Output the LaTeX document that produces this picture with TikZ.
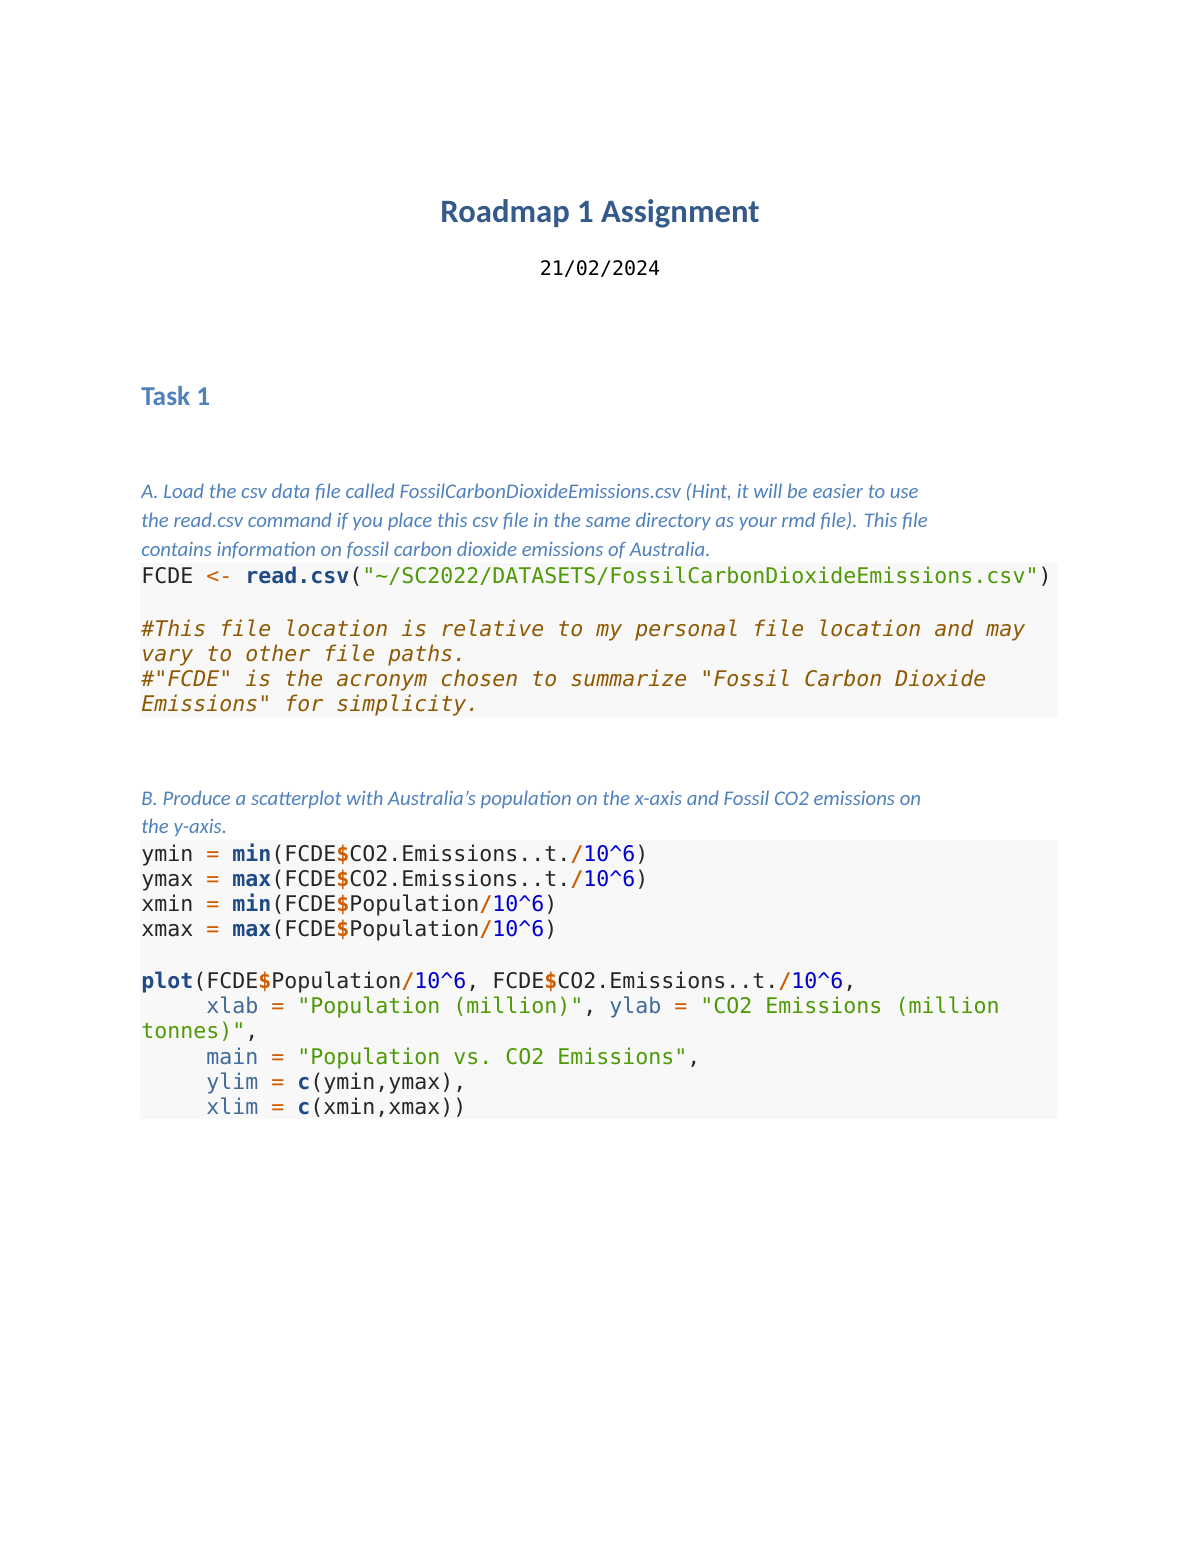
\documentclass[tikz,border=0pt]{standalone}
\usepackage{fontspec}
\setmainfont{Carlito}
\setmonofont{DejaVu Sans Mono}
\definecolor{titlec}{HTML}{345A8A}
\definecolor{taskc}{HTML}{4F81BD}
\definecolor{bodyc}{HTML}{4F81BD}
\definecolor{kwc}{HTML}{204A87}
\definecolor{opc}{HTML}{CE5C00}
\definecolor{stc}{HTML}{4E9A06}
\definecolor{nmc}{HTML}{0000CF}
\definecolor{cmc}{HTML}{8F5902}
\definecolor{atc}{HTML}{3F6A9A}
\definecolor{codebg}{HTML}{F8F8F8}
\newcommand{\kw}[1]{\textcolor{kwc}{\bfseries #1}}
\newcommand{\opx}[1]{\textcolor{opc}{#1}}
\newcommand{\opb}[1]{\textcolor{opc}{\bfseries #1}}
\newcommand{\stx}[1]{\textcolor{stc}{#1}}
\newcommand{\nmx}[1]{\textcolor{nmc}{#1}}
\newcommand{\cmx}[1]{\textcolor{cmc}{\itshape #1}}
\newcommand{\atx}[1]{\textcolor{atc}{#1}}
\newcommand{\ind}{\phantom{xxxxx}}
\begin{document}
\begin{tikzpicture}[x=0.75pt,y=-0.75pt,
  codeline/.style={anchor=base west,inner sep=0pt,font=\ttfamily\fontsize{16.2}{18}\selectfont,text=black!85},
  bodyline/.style={anchor=base west,inner sep=0pt,font=\itshape\fontsize{15.6}{18}\selectfont,text=bodyc},
]
\useasboundingbox[fill=white] (0,0) rectangle (1200,1553);
\fill[codebg] (140,563) rectangle (1058,717);
\fill[codebg] (140,840) rectangle (1058,1119);
\node[anchor=base,inner sep=0pt,font=\bfseries\fontsize{24.5}{28}\selectfont,text=titlec] (title) at (600,222) {Roadmap 1 Assignment};
\node[anchor=base,inner sep=0pt,font=\ttfamily\fontsize{15}{18}\selectfont] (date) at (600,275) {21/02/2024};
\node[anchor=base west,inner sep=0pt,font=\bfseries\fontsize{20.5}{24}\selectfont,text=taskc] (task) at (141,405) {Task 1};
\node[bodyline] (a1) at (141,498) {A. Load the csv data file called FossilCarbonDioxideEmissions.csv (Hint, it will be easier to use};
\node[bodyline] (a2) at (141,527) {the read.csv command if you place this csv file in the same directory as your rmd file). This file};
\node[bodyline] (a3) at (141,556) {contains information on fossil carbon dioxide emissions of Australia.};
\node[codeline] (c1) at (141,583) {FCDE \opx{<-} \kw{read.csv}(\stx{"\textasciitilde/SC2022/DATASETS/FossilCarbonDioxideEmissions.csv"})};
\node[codeline] (c2) at (141,636) {\cmx{\#This file location is relative to my personal file location and may}};
\node[codeline] (c3) at (141,661) {\cmx{vary to other file paths.}};
\node[codeline] (c4) at (141,686) {\cmx{\#"FCDE" is the acronym chosen to summarize "Fossil Carbon Dioxide}};
\node[codeline] (c5) at (141,711) {\cmx{Emissions" for simplicity.}};
\node[bodyline] (b1) at (141,805) {B. Produce a scatterplot with Australia's population on the x-axis and Fossil CO2 emissions on};
\node[bodyline] (b2) at (141,833) {the y-axis.};
\node[codeline] (d1) at (141,861) {ymin \opx{=} \kw{min}(FCDE\opb{\$}CO2.Emissions..t.\opb{/}\nmx{10\textasciicircum6})};
\node[codeline] (d2) at (141,886) {ymax \opx{=} \kw{max}(FCDE\opb{\$}CO2.Emissions..t.\opb{/}\nmx{10\textasciicircum6})};
\node[codeline] (d3) at (141,911) {xmin \opx{=} \kw{min}(FCDE\opb{\$}Population\opb{/}\nmx{10\textasciicircum6})};
\node[codeline] (d4) at (141,936) {xmax \opx{=} \kw{max}(FCDE\opb{\$}Population\opb{/}\nmx{10\textasciicircum6})};
\node[codeline] (d5) at (141,988) {\kw{plot}(FCDE\opb{\$}Population\opb{/}\nmx{10\textasciicircum6}, FCDE\opb{\$}CO2.Emissions..t.\opb{/}\nmx{10\textasciicircum6},};
\node[codeline] (d6) at (141,1013) {\ind\atx{xlab} \opx{=} \stx{"Population (million)"}, \atx{ylab} \opx{=} \stx{"CO2 Emissions (million}};
\node[codeline] (d7) at (141,1038) {\stx{tonnes)"},};
\node[codeline] (d8) at (141,1064) {\ind\atx{main} \opx{=} \stx{"Population vs. CO2 Emissions"},};
\node[codeline] (d9) at (141,1089) {\ind\atx{ylim} \opx{=} \kw{c}(ymin,ymax),};
\node[codeline] (d10) at (141,1114) {\ind\atx{xlim} \opx{=} \kw{c}(xmin,xmax))};
\end{tikzpicture}
\end{document}
